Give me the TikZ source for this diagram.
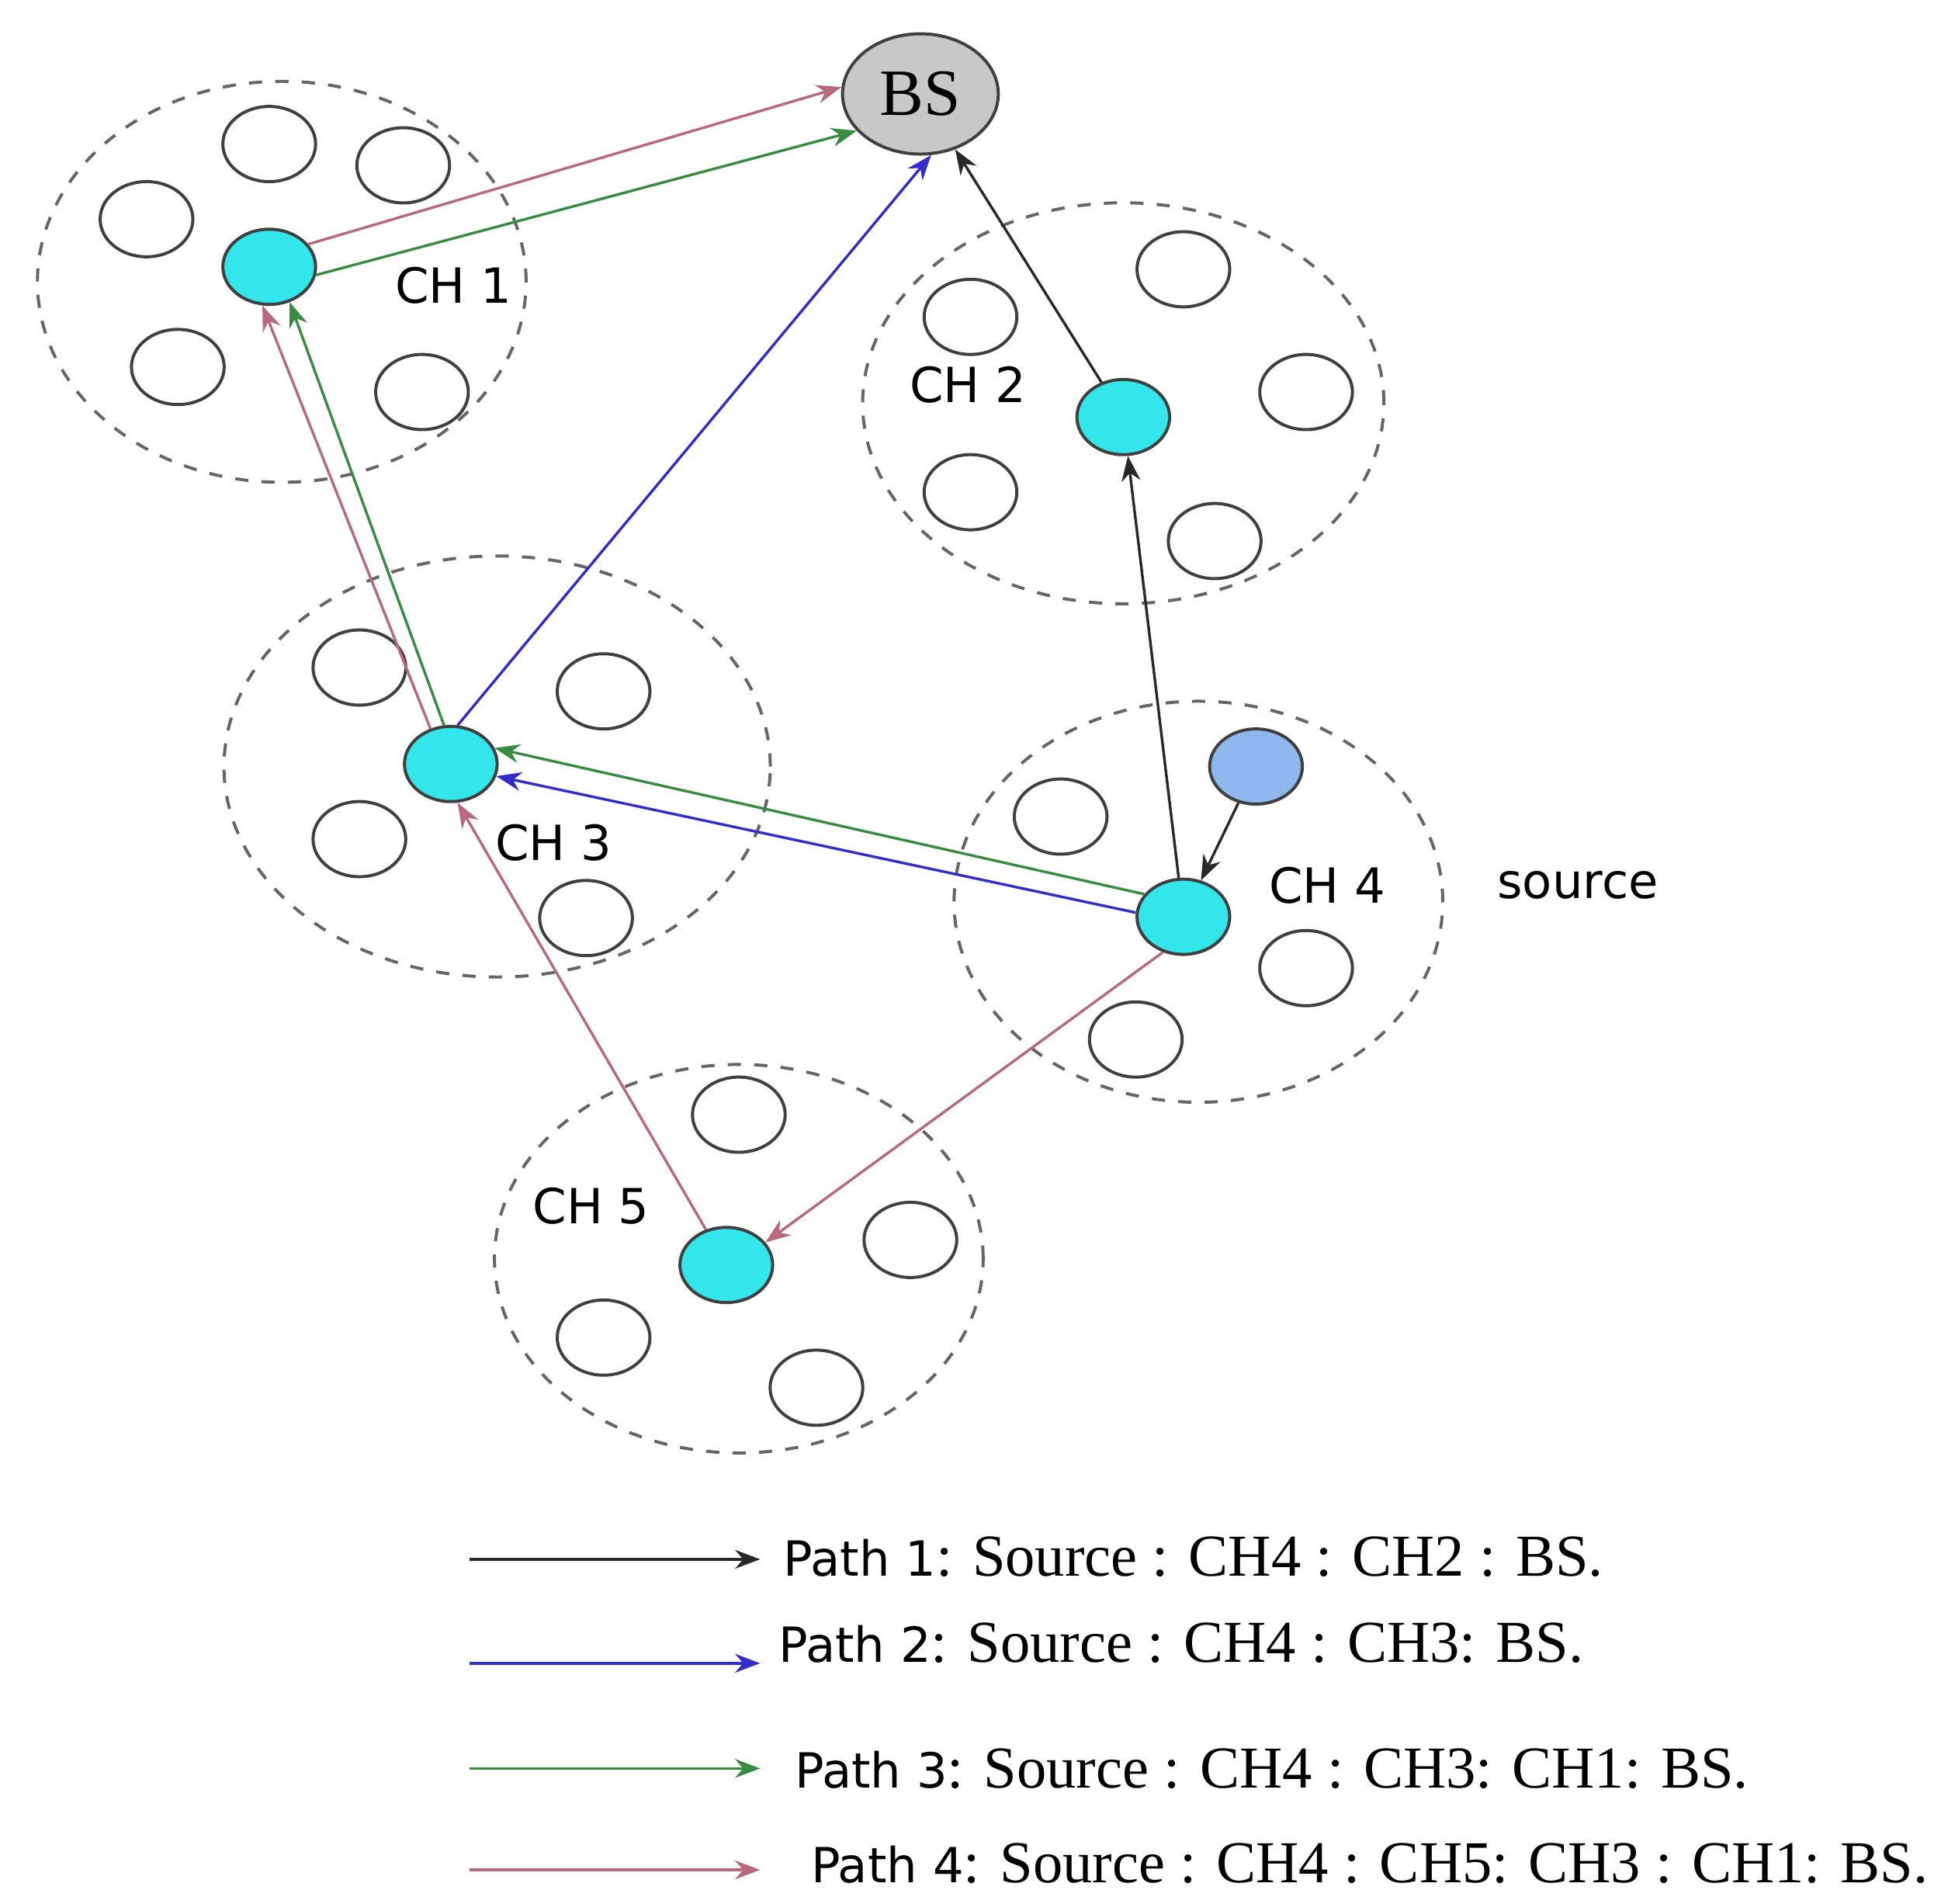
\documentclass[tikz,border=0pt]{standalone}
\usepackage{fontspec}
\setmainfont{Liberation Serif}
\newfontfamily\sansf{DejaVu Sans}
\usetikzlibrary{shapes.geometric, arrows.meta, calc}
\definecolor{cy}{HTML}{33E6EB}
\definecolor{sb}{HTML}{8FB8EE}
\definecolor{bsg}{HTML}{C8C8C8}
\definecolor{pk}{RGB}{185,105,125}
\definecolor{gn}{RGB}{55,140,65}
\definecolor{bl}{RGB}{50,45,200}
\definecolor{dk}{RGB}{40,40,40}
\tikzset{
    sensor/.style={draw=black!75,ellipse,minimum width=0.74cm,minimum height=0.6cm,inner sep=0pt,line width=0.7pt},
    head/.style={sensor,fill=cy},
    cluster/.style={draw=black!60,dashed,ellipse,inner sep=0pt,line width=0.7pt},
    chlabel/.style={font=\sansf\fontsize{11}{11}\selectfont,inner sep=0pt},
    link/.style={-{Stealth[length=2mm]},line width=0.6pt},
    legtext/.style={anchor=west,font=\fontsize{13.5}{13.5}\selectfont,inner sep=0pt}
}
\begin{document}
\begin{tikzpicture}[x=0.01cm,y=-0.01cm]
\useasboundingbox (0,0) rectangle (1550,1520);
% clusters
\node[cluster,minimum width=3.9cm,minimum height=3.2cm] (cl1) at (225,225) {};
\node[cluster,minimum width=4.16cm,minimum height=3.2cm] (cl2) at (897,322) {};
\node[cluster,minimum width=4.36cm,minimum height=3.36cm] (cl3) at (397,612) {};
\node[cluster,minimum width=3.9cm,minimum height=3.2cm] (cl4) at (957,720) {};
\node[cluster,minimum width=3.9cm,minimum height=3.1cm] (cl5) at (590,1005) {};
% base station
\node[draw=black!75,ellipse,fill=bsg,minimum width=1.2cm,minimum height=0.96cm,line width=0.7pt,font=\fontsize{15}{15}\selectfont] (bs) at (735,75) {BS};
% sensors
\foreach \x/\y [count=\i] in {215/115,322/132,117/175,142/293,337/313,
    945/215,775/253,1043/313,775/393,970/432,
    287/533,482/552,287/670,468/733,
    847/652,1043/773,907/830,
    590/890,727/990,482/1068,652/1108}
    \node[sensor] (s\i) at (\x,\y) {};
% cluster heads
\node[head] (ch1) at (215,213) {};
\node[head] (ch2) at (897,333) {};
\node[head] (ch3) at (360,610) {};
\node[head] (ch4) at (945,732) {};
\node[head] (ch5) at (580,1010) {};
\node[sensor,fill=sb] (src) at (1003,612) {};
% labels
\node[chlabel] (l1) at (362,228) {CH 1};
\node[chlabel] (l2) at (773,307) {CH 2};
\node[chlabel] (l3) at (442,673) {CH 3};
\node[chlabel] (l4) at (1060,707) {CH 4};
\node[chlabel] (l5) at (472,963) {CH 5};
\node[chlabel] (lsrc) at (1260,707) {source};
% path 1
\draw[link,dk] (src) -- (ch4);
\draw[link,dk] (ch4) -- (ch2);
\draw[link,dk] (ch2) -- (bs);
% path 2
\draw[link,bl] (ch4.175) -- (ch3.-15);
\draw[link,bl] (ch3.80) -- (bs.-80);
% path 3
\draw[link,gn] (ch4.150) -- (ch3.20);
\draw[link,gn] (ch3.100) -- (ch1.-60);
\draw[link,gn] (ch1.-10) -- (bs.-150);
% path 4
\draw[link,pk] (ch4.-120) -- (ch5.30);
\draw[link,pk] (ch5.120) -- (ch3.-80);
\draw[link,pk] (ch3.120) -- (ch1.-100);
\draw[link,pk] (ch1.30) -- (bs.175);
% legend
\coordinate (a1) at (375,1245); \coordinate (b1) at (607,1245);
\coordinate (a2) at (375,1328); \coordinate (b2) at (607,1328);
\coordinate (a3) at (375,1412); \coordinate (b3) at (607,1412);
\coordinate (a4) at (375,1493); \coordinate (b4) at (607,1493);
\draw[link,dk] (a1) -- (b1);
\draw[link,bl] (a2) -- (b2);
\draw[link,gn] (a3) -- (b3);
\draw[link,pk] (a4) -- (b4);
\node[legtext] (t1) at (625,1243) {{\sansf\fontsize{11}{11}\selectfont Path 1}: Source : CH4 : CH2 : BS.};
\node[legtext] (t2) at (621,1312) {{\sansf\fontsize{11}{11}\selectfont Path 2}: Source : CH4 : CH3: BS.};
\node[legtext] (t3) at (634,1412) {{\sansf\fontsize{11}{11}\selectfont Path 3}: Source : CH4 : CH3: CH1: BS.};
\node[legtext] (t4) at (647,1488) {{\sansf\fontsize{11}{11}\selectfont Path 4}: Source : CH4 : CH5: CH3 : CH1: BS.};
\end{tikzpicture}
\end{document}
